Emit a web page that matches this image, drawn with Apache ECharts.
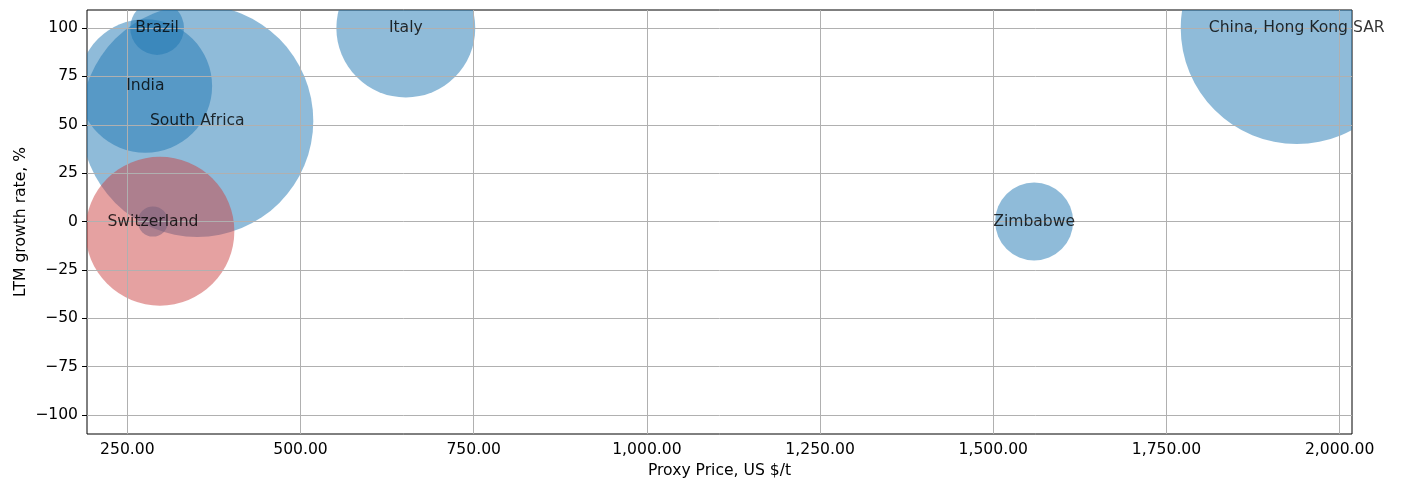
<!DOCTYPE html>
<html>
<head>
<meta charset="utf-8">
<script src="https://cdn.jsdelivr.net/npm/echarts@6/dist/echarts.min.js"></script>
<style>
  html, body { margin: 0; padding: 0; background: #fff; }
  #chart { width: 1402px; height: 479px; }
</style>
</head>
<body>
<div id="chart"></div>
<script>
// bubbles (blue = growth >= 0)
const countries = ['Brazil', 'India', 'South Africa', 'Switzerland', 'Italy', 'Zimbabwe', 'China, Hong Kong SAR'];
const prices = [293, 276, 351, 287, 652, 1559, 1938];
const growth = [100, 70, 52, 0, 100, 0, 100];
const volumes = [1500, 9250, 27900, 470, 10000, 3150, 27900];

// the red bubble (no label in the picture)
const redPrices = [297];
const redGrowth = [-5];
const redVolumes = [11500];

// ticks
const xTicks = [250, 500, 750, 1000, 1250, 1500, 1750, 2000];
const yTicks = [-100, -75, -50, -25, 0, 25, 50, 75, 100];

const font = 'DejaVu Sans';
const fontSize = 15.6;
// volume -> diameter in px (matplotlib s is pt^2, 100 dpi)
const toSize = v => Math.sqrt(v) * 100 / 72;

const blueData = countries.map((c, i) => ({ name: c, value: [prices[i], growth[i], volumes[i]] }));
const redData = redPrices.map((p, i) => [p, redGrowth[i], redVolumes[i]]);

// circles drawn through the axes, clipped to the plot area
const bubble = fill => (params, api) => {
    const p = api.coord([api.value(0), api.value(1)]);
    return {
        type: 'circle',
        shape: { cx: p[0], cy: p[1], r: toSize(api.value(2)) / 2 },
        style: { fill: fill }
    };
};

const chart = echarts.init(document.getElementById('chart'));

chart.setOption({
    animation: false,
    grid: {
        left: 87,
        top: 10,
        width: 1265,
        height: 424,
        containLabel: false,
        outerBoundsMode: 'none',
        show: true,
        borderColor: '#000',
        borderWidth: 1,
        backgroundColor: 'transparent'
    },
    xAxis: {
        type: 'value',
        min: 191.8,
        max: 2017.8,
        name: 'Proxy Price, US $/t',
        nameLocation: 'middle',
        nameGap: 25,
        nameTextStyle: { fontFamily: font, fontSize: fontSize, color: '#000' },
        axisLine: { show: false },
        axisTick: { show: true, length: 5, customValues: xTicks, lineStyle: { color: '#000' } },
        axisLabel: {
            customValues: xTicks,
            margin: 8,
            fontFamily: font, fontSize: fontSize, color: '#000',
            formatter: v => v.toLocaleString('en-US', { minimumFractionDigits: 2, maximumFractionDigits: 2 })
        },
        splitLine: { show: false }
    },
    yAxis: {
        type: 'value',
        min: -109.8,
        max: 109.3,
        name: 'LTM growth rate, %',
        nameLocation: 'middle',
        nameGap: 58,
        nameMoveOverlap: false,
        nameTextStyle: { fontFamily: font, fontSize: fontSize, color: '#000' },
        axisLine: { show: false },
        axisTick: { show: true, length: 5, customValues: yTicks, lineStyle: { color: '#000' } },
        axisLabel: {
            customValues: yTicks,
            margin: 9,
            fontFamily: font, fontSize: fontSize, color: '#000',
            formatter: v => String(v).replace('-', '\u2212')
        },
        splitLine: { show: false }
    },
    series: [
        {
            name: 'growth',
            type: 'custom',
            data: blueData,
            encode: { x: 0, y: 1 },
            renderItem: bubble('rgba(31,119,180,0.5)'),
            clip: true,
            silent: true,
            z: 2
        },
        {
            name: 'decline',
            type: 'custom',
            data: redData,
            encode: { x: 0, y: 1 },
            renderItem: bubble('rgba(204,68,68,0.5)'),
            clip: true,
            silent: true,
            z: 3
        },
        {
            // grid lines on top of the bubbles, and the country labels
            name: 'labels',
            type: 'scatter',
            data: blueData,
            symbolSize: 1,
            itemStyle: { color: 'rgba(0,0,0,0)' },
            clip: false,
            silent: true,
            z: 10,
            label: {
                show: true,
                position: 'inside',
                formatter: p => p.name,
                fontFamily: font,
                fontSize: fontSize,
                color: '#000'
            },
            markLine: {
                silent: true,
                symbol: 'none',
                label: { show: false },
                lineStyle: { color: '#b0b0b0', width: 1, type: 'solid' },
                z: 5,
                data: xTicks.map(v => ({ xAxis: v })).concat(yTicks.map(v => ({ yAxis: v })))
            }
        }
    ]
});
</script>
</body>
</html>
